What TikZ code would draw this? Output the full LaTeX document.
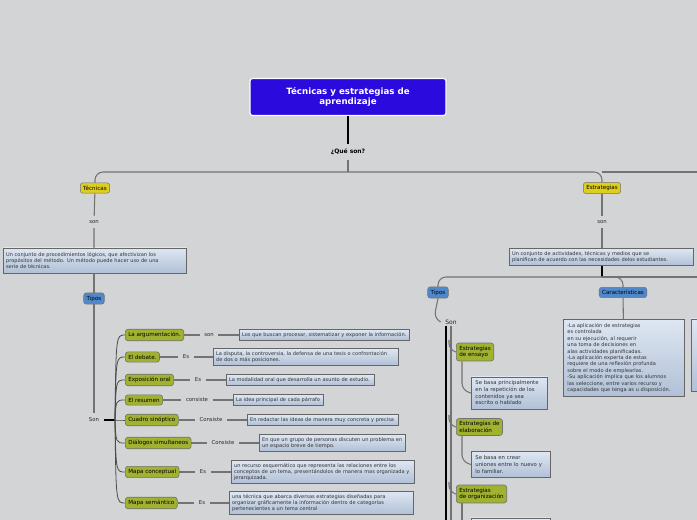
\documentclass[tikz,border=0pt]{standalone}
\usepackage{fontspec}
\setmainfont{DejaVu Sans}
\definecolor{bg}{RGB}{211,212,214}
\definecolor{gr}{RGB}{160,178,48}
\definecolor{bu}{RGB}{80,136,204}
\definecolor{ye}{RGB}{222,206,30}
\definecolor{dtop}{RGB}{222,230,242}
\definecolor{dbot}{RGB}{176,192,214}
\begin{document}
\begin{tikzpicture}[x=0.75pt,y=-0.75pt,
 every node/.style={font=\fontsize{4}{5}\selectfont},
 desc/.style={draw=black!60,line width=0.6pt,top color=dtop,bottom color=dbot,inner sep=2pt,align=left,anchor=west,text=black!80,font=\fontsize{3.8}{4.8}\selectfont},
 grn/.style={draw=black!55,line width=0.5pt,fill=gr,rounded corners=2pt,inner sep=2.2pt,anchor=west,align=left,text=black,font=\fontsize{4.2}{5}\selectfont},
 blu/.style={draw=black!55,fill=bu,rounded corners=2pt,inner sep=2.2pt,text=black,font=\fontsize{4.2}{5}\selectfont},
 yel/.style={draw=black!55,fill=ye,rounded corners=2pt,inner sep=2.2pt,text=black,font=\fontsize{4.2}{5}\selectfont},
 lab/.style={text=black!85},
 ln/.style={draw=black!55,line width=0.8pt},
 bl/.style={draw=black,line width=0.8pt}]
\fill[bg] (0,0) rectangle (697,520);
\useasboundingbox (0,0) rectangle (697,520);
% title
\node[draw=white,line width=0.8pt,fill={rgb,255:red,42;green,10;blue,220},rounded corners=2pt,minimum width=196*0.75pt,minimum height=37*0.75pt,text=white,font=\bfseries\fontsize{6.5}{7.5}\selectfont,align=center] (title) at (348,97) {Técnicas y estrategias de\\aprendizaje};
\node[font=\bfseries\fontsize{4.5}{5}\selectfont] (que) at (348,152) {¿Qué son?};
\draw[bl] (title) -- (que);
\coordinate (h) at (348,172);
\node[yel] (tec) at (95,188) {Técnicas};
\node[yel] (est) at (602,188) {Estrategias};
\draw[ln] (que) -- (h);
\draw[ln,rounded corners=6pt] (h) -- (95,172) -- (tec.north);
\draw[ln,rounded corners=6pt] (h) -- (602,172) -- (est.north);
\draw[ln] (602,172) -- (697,172);
% left
\node[lab] (son1) at (94,222) {son};
\node[desc,text width=183*0.75pt-4pt,minimum height=25*0.75pt] (d1) at (3,260.5) {Un conjunto de procedimientos lógicos, que afectivizan los\\propósitos del método. Un método puede hacer uso de una\\serie de técnicas.};
\draw[ln] (tec) -- (son1) -- (94,248);
\node[blu] (tip1) at (94,298.5) {Tipos};
\draw[ln] (94,273) -- (tip1);
\node[lab] (Son1) at (94,420) {Son};
\draw[ln] (tip1) -- (Son1.north);
\coordinate (j) at (115,420);
\draw[bl] (Son1.east) -- (j);
\foreach \y/\t/\l/\lx/\dx/\w/\dt [count=\i] in {
 335/La argumentación./son/209/239/170/{Los que buscan procesar, sistematizar y exponer la información.},
 357/El debate./Es/186/213/185/{La disputa, la controversia, la defensa de una tesis o confrontación\\de dos o más posiciones.},
 380/Exposición oral/Es/198/226/148/{La modalidad oral que desarrolla un asunto de estudio.},
 400/El resumen/consiste/197/233/90/{La idea principal de cada párrafo},
 420/Cuadro sinóptico/Consiste/211/247/151/{En redactar las ideas de manera muy concreta y precisa},
 443/Diálogos simultaneos/Consiste/223/259/146/{En que un grupo de personas discuten un problema en\\un espacio breve de tiempo.},
 472/Mapa conceptual/Es/203/231/183/{un recurso esquemático que representa las relaciones entre los\\conceptos de un tema, presentándolos de manera mas organizada y\\jerarquizada.},
 503/Mapa semántico/Es/202/229/184/{una técnica que abarca diversas estrategias diseñadas para\\organizar gráficamente la información dentro de categorías\\pertenecientes a un tema central}}{
 \node[grn] (g\i) at (125,\y) {\t};
 \node[lab] (l\i) at (\lx,\y) {\l};
 \node[desc,text width=\w*0.75pt-4pt] (e\i) at (\dx,\y) {\dt};
 \draw[ln] (g\i) -- (l\i) -- (e\i);
 \draw[draw=black!70,line width=0.6pt] (j) .. controls (116,\y) .. (g\i.west);
}
% right
\node[lab] (son2) at (602,222) {son};
\node[desc,text width=184*0.75pt-4pt] (d2) at (509,257) {Un conjunto de actividades, técnicas y medios que se\\planifican de acuerdo con las necesidades delos estudiantes.};
\draw[ln] (est) -- (son2) -- (602,248);
\coordinate (h2) at (602,277);
\draw[bl] (602,266) -- (h2);
\node[blu] (tip2) at (438,292.5) {Tipos};
\node[blu] (car) at (623,292.5) {Características};
\draw[ln,rounded corners=6pt] (h2) -- (438,277) -- (tip2.north);
\draw[ln,rounded corners=6pt] (h2) -- (623,277) -- (car.north);
\draw[ln] (h2) -- (697,277);
\node[desc,text width=121*0.75pt-6pt,anchor=north west,inner sep=3pt] (c1) at (563,319) {-La aplicación de estrategias\\es controlada\\en su ejecución, al requerir\\una toma de decisiones en\\ alas actividades planificadas.\\-La aplicación experta de estas\\ requiere de una reflexión profunda\\ sobre el modo de emplearlas.\\-Su aplicación implica que los alumnos\\las seleccione, entre varios recurso y\\capacidades que tenga as u disposición.};
\draw[ln] (car) -- (c1);
\fill[top color=dtop,bottom color=dbot,draw=black!60,line width=0.6pt] (691,319) rectangle (700,391);
\node[lab,font=\fontsize{4.5}{5}\selectfont] (Son2) at (451,322) {Son};
\draw[ln,rounded corners=5pt] (tip2.south) -- (434,318) -- (Son2.west);
\draw[bl] (446,326) -- (446,520);
\draw[ln] (451,326) -- (451,520);
\foreach \y/\t [count=\i] in {352/{Estrategias\\de ensayo},427/{Estrategias de\\elaboración},494/{Estrategias\\de organización}}{
 \node[grn] (s\i) at (456,\y) {\t};
 \draw[ln,rounded corners=5pt] (449,\y-12) -- (449,\y-2) -- (s\i.west);
}
\foreach \i/\y/\w/\dt in {1/393/76/{Se basa principalmente\\en la repetición de los\\contenidos ya sea\\escrito o hablado},2/464.5/79/{Se basa en crear\\uniones entre lo nuevo y\\ lo familiar.}}{
 \node[desc,text width=\w*0.75pt-6pt,inner sep=3pt,font=\fontsize{4}{5}\selectfont] (t\i) at (471,\y) {\dt};
 \draw[ln,rounded corners=5pt] (s\i.south -| 462,0) -- (462,\y-3) -- (t\i.west);
}
\draw[ln] (s3.south -| 462,0) -- (462,520);
\fill[top color=dtop,draw=black!60,line width=0.6pt] (471,518) rectangle (550,525);
\end{tikzpicture}
\end{document}
